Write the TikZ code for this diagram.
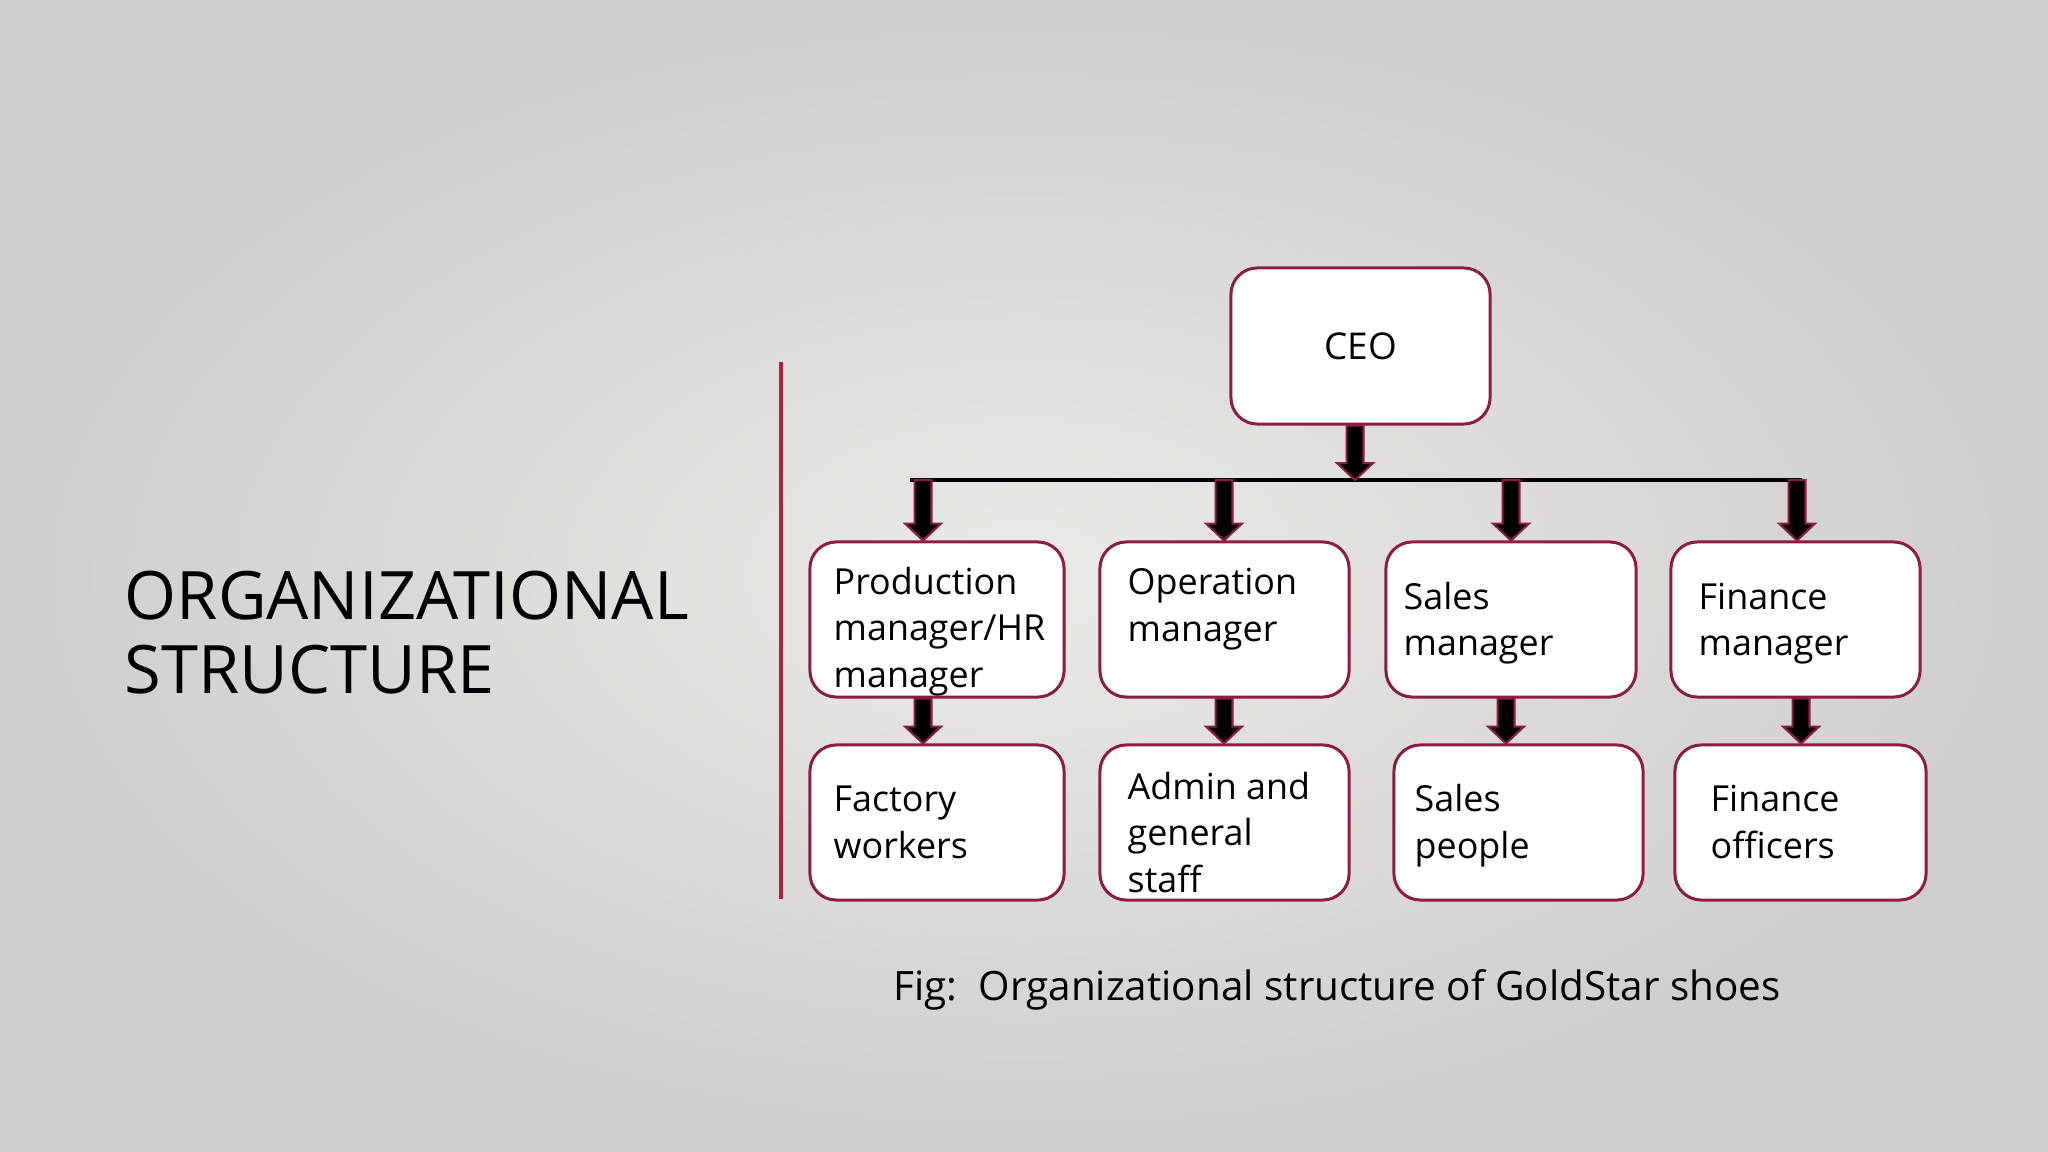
\documentclass[tikz,border=0pt]{standalone}
\usepackage{fontspec}
\setmainfont{Open Sans}
\usetikzlibrary{calc}
\definecolor{boxred}{HTML}{8C1D40}
\definecolor{linered}{HTML}{B0203F}
\definecolor{bgin}{HTML}{EBEAE7}
\definecolor{bgout}{HTML}{D0CECC}
\tikzset{
  box/.style={draw=boxred, line width=0.85pt, fill=white, rounded corners=7.5pt, inner sep=0pt, minimum height=1.55cm},
  btxt/.style={anchor=base west, align=left, inner sep=0pt, font=\fontsize{10.2}{13.1}\selectfont},
  barrowsty/.style={fill=black, draw=boxred, line width=0.6pt, line join=miter},
}
\newcommand\blockarr[3]{\draw[barrowsty] let \p0=(#1,0), \p1=(#2), \p2=(#3) in
  (\x0-2.4pt,\y1) -- (\x0+2.4pt,\y1) -- (\x0+2.4pt,\y2+4.8pt) -- (\x0+5.1pt,\y2+4.8pt)
  -- (\x0,\y2) -- (\x0-5.1pt,\y2+4.8pt) -- (\x0-2.4pt,\y2+4.8pt) -- cycle;}
\begin{document}
\begin{tikzpicture}[x=0.01cm, y=-0.01cm]
\useasboundingbox (0,0) rectangle (2048,1152);
\shade[inner color=bgin, outer color=bgout] (0,0) rectangle (2048,1152);

% title and divider
\node[anchor=base west, align=left, inner sep=0pt, font=\fontsize{19}{20.8}\selectfont] (title) at (124,693) {ORGANIZATIONAL\\STRUCTURE};
\coordinate (vtop) at (781,362);
\coordinate (vbot) at (781,899);
\draw[linered, line width=1.1pt] (vtop) -- (vbot);

% boxes
\node[box, minimum width=2.59cm, minimum height=1.56cm] (ceo) at (1360.5,346) {};
\node[font=\fontsize{10.5}{12}\selectfont] (ceot) at (1360.5,346) {CEO};

\node[box, minimum width=2.54cm] (prod) at (937,619.5) {};
\node[box, minimum width=2.49cm] (oper) at (1224.5,619.5) {};
\node[box, minimum width=2.50cm] (sales) at (1511,619.5) {};
\node[box, minimum width=2.49cm] (fin) at (1795.5,619.5) {};

\node[box, minimum width=2.54cm] (fact) at (937,822.5) {};
\node[box, minimum width=2.49cm] (admin) at (1224.5,822.5) {};
\node[box, minimum width=2.49cm] (salesp) at (1518.5,822.5) {};
\node[box, minimum width=2.51cm] (fino) at (1800.5,822.5) {};

% texts (anchored at the baseline of the last line)
\node[btxt] (prodt) at (833,687) {Production\\manager/HR\\manager};
\node[btxt] (opert) at (1127,641) {Operation\\manager};
\node[btxt] (salest) at (1403,656) {Sales\\manager};
\node[btxt] (fint) at (1698,656) {Finance\\manager};
\node[btxt] (factt) at (833,858) {Factory\\workers};
\node[btxt] (admint) at (1127,892) {Admin and\\general\\staff};
\node[btxt] (salespt) at (1414,858) {Sales\\people};
\node[btxt] (finot) at (1710,858) {Finance\\officers};

% connectors
\coordinate (hl) at (910,480);
\coordinate (hr) at (1802,480);
\coordinate (hmid) at (1355,480);
\draw[line width=1.2pt] (hl) -- (hr);
\blockarr{1355}{ceo.south}{hmid}
\blockarr{923}{hl}{prod.north}
\blockarr{1224}{hl}{oper.north}
\blockarr{1511}{hl}{sales.north}
\blockarr{1797}{hl}{fin.north}
\blockarr{923}{prod.south}{fact.north}
\blockarr{1224}{oper.south}{admin.north}
\blockarr{1506}{sales.south}{salesp.north}
\blockarr{1801}{fin.south}{fino.north}

% caption
\node[anchor=base west, inner sep=0pt, font=\fontsize{11.5}{14}\selectfont] (cap) at (893,1000) {Fig:\ \ Organizational structure of GoldStar shoes};
\end{tikzpicture}
\end{document}
